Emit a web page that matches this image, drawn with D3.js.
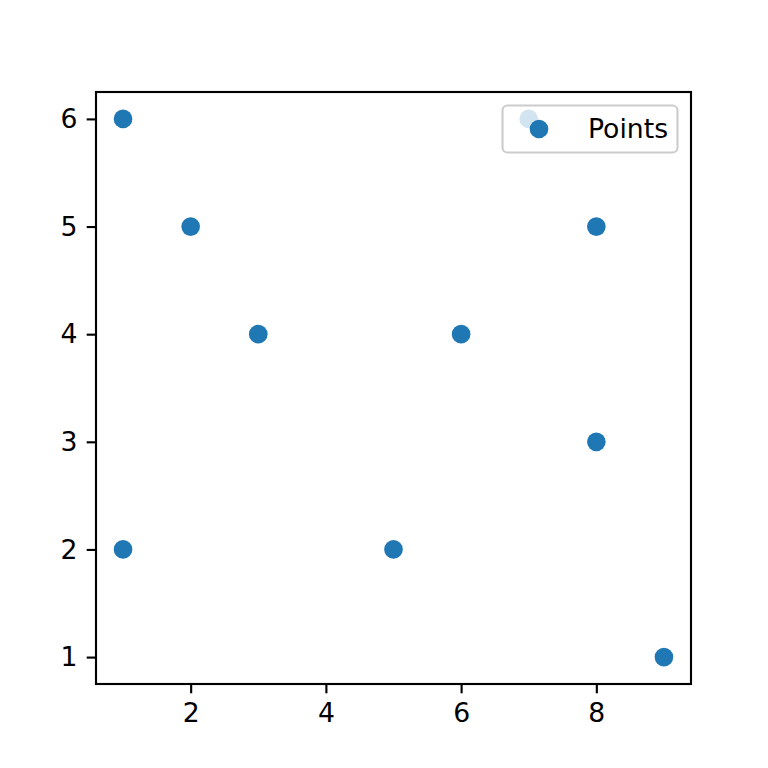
<!DOCTYPE html>
<html><head><meta charset="utf-8">
<script src="https://cdn.jsdelivr.net/npm/d3@7"></script>
<style>body{margin:0;background:#fff}svg{display:block}svg text{font-family:"DejaVu Sans",sans-serif;font-size:26.67px;fill:#000}</style>
</head><body>
<script>
const xValues = [1, 2, 3, 1, 5, 6, 7, 8, 8, 9];
const yValues = [6, 5, 4, 2, 2, 4, 6, 5, 3, 1];
const xTicks = [2, 4, 6, 8];
const yTicks = [1, 2, 3, 4, 5, 6];
const seriesName = "Points";

const W = 768, H = 768;
const m = {left: 96, right: 691, top: 92, bottom: 684};
const svg = d3.select("body").append("svg").attr("width", W).attr("height", H);
const x = d3.scaleLinear().domain([0.6, 9.4]).range([m.left, m.right]);
const y = d3.scaleLinear().domain([0.75, 6.25]).range([m.bottom, m.top]);
const color = "#1f77b4";

const xAxis = svg.append("g").attr("transform", `translate(0,${m.bottom})`)
  .call(d3.axisBottom(x).tickValues(xTicks).tickSize(9.3).tickPadding(9.3).tickFormat(d3.format("d")));
const yAxis = svg.append("g").attr("transform", `translate(${m.left},0)`)
  .call(d3.axisLeft(y).tickValues(yTicks).tickSize(9.3).tickPadding(9.3).tickFormat(d3.format("d")));
[xAxis, yAxis].forEach(a => {
  a.attr("font-size", null).attr("font-family", null);
  a.select(".domain").remove();
  a.selectAll("line").attr("stroke", "#000").attr("stroke-width", 2.13);
});

svg.append("g").selectAll("circle").data(xValues.map((v, i) => [v, yValues[i]])).join("circle")
  .attr("cx", d => x(d[0])).attr("cy", d => y(d[1])).attr("r", 9.33).attr("fill", color);

svg.append("rect").attr("x", m.left).attr("y", m.top).attr("width", m.right - m.left).attr("height", m.bottom - m.top)
  .attr("fill", "none").attr("stroke", "#000").attr("stroke-width", 2.13);

const lg = svg.append("g");
lg.append("rect").attr("x", 502.5).attr("y", 105.5).attr("width", 175).attr("height", 47).attr("rx", 5)
  .attr("fill", "#fff").attr("fill-opacity", 0.8).attr("stroke", "#cccccc").attr("stroke-width", 2.13);
lg.append("circle").attr("cx", 539).attr("cy", 129).attr("r", 9.33).attr("fill", color);
lg.append("text").attr("x", 588).attr("y", 129).attr("dy", "0.35em").text(seriesName);
</script>
</body></html>
